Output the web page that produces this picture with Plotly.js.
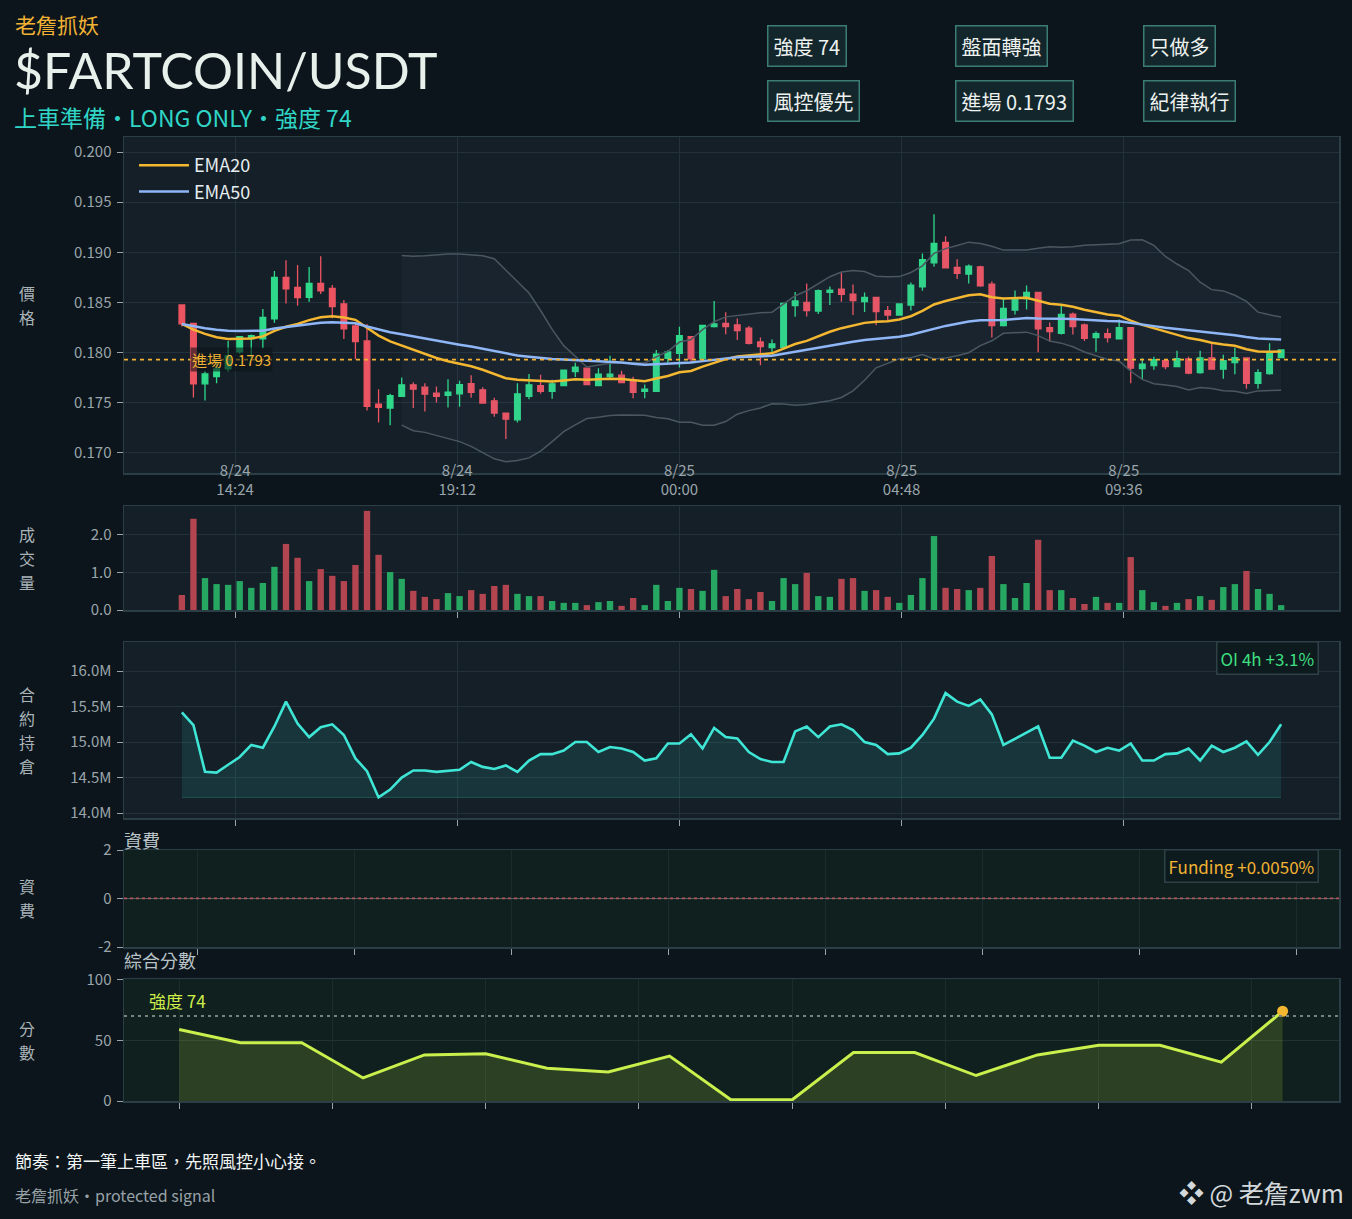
<!DOCTYPE html>
<html>
<head>
<meta charset="utf-8">
<script src="https://cdn.plot.ly/plotly-3.0.1.min.js"></script>
<style>
html,body{margin:0;padding:0;background:#0b151b;}
#chart{width:1352px;height:1219px;}
</style>
</head>
<body>
<div id="chart"></div>
<script>
// ---------------- DATA ----------------
const START_TIME = '2025-08-24T13:15:00';
const INTERVAL_MIN = 15;

const opens = [
0.18475,0.18292,0.17689,0.17762,0.17838,0.18007,0.18140,0.18137,0.18336,0.18750,
0.18650,0.18551,0.18690,0.18641,0.18485,0.18266,0.18117,0.17487,0.17447,0.17563,
0.17679,0.17656,0.17596,0.17573,0.17589,0.17692,0.17629,0.17520,0.17397,0.17330,
0.17563,0.17672,0.17613,0.17672,0.17812,0.17845,0.17672,0.17760,0.17775,0.17712,
0.17613,0.17613,0.17944,0.17994,0.18160,0.17938,0.18260,0.18292,0.18276,0.18243,
0.18107,0.18050,0.18054,0.18468,0.18500,0.18415,0.18600,0.18634,0.18584,0.18510,
0.18550,0.18418,0.18375,0.18475,0.18657,0.18896,0.19098,0.18850,0.18783,0.18856,
0.18684,0.18269,0.18425,0.18540,0.18600,0.18250,0.18193,0.18385,0.18276,0.18150,
0.18190,0.18137,0.18250,0.17840,0.17870,0.17920,0.17860,0.17937,0.17800,0.17947,
0.17835,0.17900,0.17947,0.17695,0.17790,0.17950];
const highs = [
0.18480,0.18295,0.17812,0.17920,0.18117,0.18167,0.18180,0.18435,0.18813,0.18922,
0.18873,0.18853,0.18962,0.18674,0.18525,0.18300,0.18286,0.17636,0.17590,0.17752,
0.17705,0.17696,0.17662,0.17735,0.17720,0.17775,0.17656,0.17550,0.17400,0.17696,
0.17788,0.17779,0.17730,0.17830,0.17900,0.17850,0.17845,0.17968,0.17820,0.17760,
0.17682,0.18027,0.18027,0.18259,0.18160,0.18275,0.18515,0.18402,0.18340,0.18266,
0.18150,0.18130,0.18500,0.18604,0.18690,0.18630,0.18660,0.18797,0.18680,0.18600,
0.18550,0.18465,0.18490,0.18700,0.18988,0.19380,0.19161,0.18932,0.18880,0.18866,
0.18710,0.18535,0.18620,0.18670,0.18600,0.18300,0.18468,0.18400,0.18290,0.18210,
0.18240,0.18330,0.18256,0.17945,0.17960,0.17920,0.18020,0.17960,0.18020,0.18090,
0.17980,0.18050,0.17950,0.17835,0.18093,0.18035];
const lows = [
0.18260,0.17553,0.17523,0.17696,0.17812,0.17990,0.17920,0.18044,0.18299,0.18491,
0.18468,0.18508,0.18584,0.18342,0.18137,0.17934,0.17424,0.17304,0.17275,0.17560,
0.17447,0.17414,0.17503,0.17453,0.17460,0.17550,0.17490,0.17360,0.17139,0.17304,
0.17536,0.17590,0.17540,0.17670,0.17758,0.17680,0.17670,0.17730,0.17700,0.17546,
0.17546,0.17610,0.17900,0.17851,0.17910,0.17935,0.18250,0.18183,0.18127,0.18080,
0.17875,0.18000,0.18050,0.18359,0.18360,0.18385,0.18475,0.18508,0.18375,0.18405,
0.18272,0.18310,0.18370,0.18420,0.18617,0.18856,0.18840,0.18733,0.18690,0.18657,
0.18150,0.18260,0.18380,0.18430,0.18004,0.18110,0.18180,0.18180,0.18117,0.18010,
0.18100,0.18130,0.17695,0.17730,0.17830,0.17835,0.17860,0.17785,0.17790,0.17830,
0.17739,0.17785,0.17639,0.17640,0.17780,0.17945];
const closes = [
0.18286,0.17689,0.17788,0.17838,0.17971,0.18160,0.18170,0.18352,0.18750,0.18637,
0.18548,0.18690,0.18617,0.18458,0.18236,0.18110,0.17464,0.17454,0.17570,0.17679,
0.17636,0.17586,0.17563,0.17606,0.17682,0.17603,0.17497,0.17397,0.17337,0.17589,
0.17679,0.17613,0.17689,0.17825,0.17855,0.17682,0.17785,0.17785,0.17702,0.17603,
0.17636,0.17984,0.18007,0.18170,0.17938,0.18272,0.18286,0.18260,0.18220,0.18093,
0.18060,0.18087,0.18491,0.18515,0.18418,0.18617,0.18624,0.18580,0.18518,0.18550,
0.18408,0.18375,0.18485,0.18674,0.18928,0.19088,0.18846,0.18790,0.18863,0.18667,
0.18269,0.18442,0.18548,0.18600,0.18236,0.18210,0.18382,0.18260,0.18143,0.18190,
0.18150,0.18250,0.17845,0.17885,0.17930,0.17860,0.17940,0.17795,0.17947,0.17835,
0.17920,0.17950,0.17695,0.17800,0.17994,0.18027];
// volume (millions)
const volumes = [
0.40,2.43,0.85,0.69,0.67,0.77,0.59,0.72,1.15,1.76,
1.39,0.77,1.09,0.91,0.77,1.20,2.64,1.47,1.01,0.83,
0.51,0.35,0.29,0.45,0.37,0.53,0.43,0.64,0.67,0.43,
0.37,0.37,0.24,0.19,0.19,0.13,0.21,0.24,0.11,0.32,
0.13,0.67,0.24,0.59,0.56,0.51,1.07,0.37,0.56,0.29,
0.48,0.24,0.85,0.69,0.99,0.37,0.35,0.83,0.85,0.51,
0.53,0.35,0.19,0.40,0.85,1.97,0.59,0.56,0.53,0.59,
1.44,0.69,0.32,0.72,1.87,0.53,0.53,0.32,0.16,0.35,
0.19,0.19,1.41,0.53,0.21,0.11,0.19,0.29,0.37,0.27,
0.61,0.69,1.04,0.56,0.43,0.13];
// open interest (millions)
const openInterest = [
15.42,15.24,14.58,14.57,14.68,14.79,14.96,14.92,15.22,15.57,
15.26,15.07,15.21,15.25,15.10,14.77,14.59,14.22,14.33,14.50,
14.60,14.60,14.58,14.59,14.61,14.72,14.65,14.62,14.67,14.58,
14.74,14.83,14.83,14.88,15.00,15.00,14.86,14.93,14.91,14.86,
14.74,14.77,14.98,14.98,15.11,14.91,15.20,15.07,15.05,14.86,
14.76,14.72,14.72,15.15,15.22,15.07,15.22,15.25,15.17,15.00,
14.96,14.83,14.84,14.92,15.10,15.33,15.69,15.57,15.51,15.60,
15.39,14.96,15.05,15.14,15.22,14.78,14.78,15.02,14.95,14.86,
14.92,14.88,14.98,14.74,14.74,14.83,14.84,14.91,14.74,14.95,
14.86,14.92,15.01,14.82,15.00,15.25];
const fundingRatePct = 0.0050;
const scores = [59,48,48,19,38,39,27,24,37,1,1,40,40,21,38,46,46,32,74];
const ENTRY = 0.1793;
const STRENGTH = 74;
const OI_CHANGE = '+3.1%';
const SCORE_LINE = 70;

const priceTickVals = ['2025-08-24 14:24','2025-08-24 19:12','2025-08-25 00:00','2025-08-25 04:48','2025-08-25 09:36'];
const priceTickText = ['8/24<br>14:24','8/24<br>19:12','8/25<br>00:00','8/25<br>04:48','8/25<br>09:36'];
const priceYTicks = [0.170,0.175,0.180,0.185,0.190,0.195,0.200];
const volYTicks = [0,1,2];
const oiYTicks = [14.0,14.5,15.0,15.5,16.0];
const oiYText = ['14.0M','14.5M','15.0M','15.5M','16.0M'];
const fundYTicks = [-2,0,2];
const fundYText = ['-2','0','2'];
const scoreYTicks = [0,50,100];
const scoreXTicks = [0,2.5,5,7.5,10,12.5,15,17.5];

// ---------------- DERIVED ----------------
const t0 = new Date(START_TIME).getTime();
function fmt(ms){
  const d = new Date(ms);
  const p = n => String(n).padStart(2,'0');
  return d.getFullYear()+'-'+p(d.getMonth()+1)+'-'+p(d.getDate())+' '+p(d.getHours())+':'+p(d.getMinutes());
}
const times = closes.map((_,i)=>fmt(t0 + i*INTERVAL_MIN*60000));
function ema(arr,n){const a=2/(n+1);const out=[arr[0]];for(let i=1;i<arr.length;i++)out.push(out[i-1]+a*(arr[i]-out[i-1]));return out;}
function boll(arr,n,k){
  const up=[],lo=[];
  for(let i=n-1;i<arr.length;i++){
    const w=arr.slice(i-n+1,i+1);const m=w.reduce((s,v)=>s+v,0)/n;
    const sd=Math.sqrt(w.reduce((s,v)=>s+(v-m)*(v-m),0)/(n-1));
    up.push(m+k*sd);lo.push(m-k*sd);
  }
  return {up,lo};
}
const ema20 = ema(closes,20), ema50 = ema(closes,50);
const bb = boll(closes,20,2);
const bbX = times.slice(19);
const volColors = closes.map((c,i)=> c>=opens[i] ? '#27a862' : '#b2454f');
const oiBase = Math.min(...openInterest);
const scoreX = scores.map((_,i)=>i);

// ---------------- STYLE ----------------
const F = '"Noto Sans CJK TC","Noto Sans",sans-serif';
const FT = 'Lato,"Noto Sans CJK TC",sans-serif';
const W=1352,H=1219;
const px = x=>x/W, py = y=>1-y/H;
const GRID='#22313a', LINE='#2c3e45', TICK='#9aa5ab';
const XD=[px(124),px(1339)];

const traces = [
  {type:'scatter',mode:'lines',x:bbX,y:bb.lo,line:{color:'#4a5761',width:1.5},xaxis:'x',yaxis:'y',showlegend:false,hoverinfo:'skip'},
  {type:'scatter',mode:'lines',x:bbX,y:bb.up,line:{color:'#4a5761',width:1.5},fill:'tonexty',fillcolor:'rgba(110,140,170,0.05)',xaxis:'x',yaxis:'y',showlegend:false,hoverinfo:'skip'},
  {type:'candlestick',x:times,open:opens,high:highs,low:lows,close:closes,xaxis:'x',yaxis:'y',
   increasing:{line:{color:'#2fd98a',width:1.3},fillcolor:'#2fd98a'},
   decreasing:{line:{color:'#ec5462',width:1.3},fillcolor:'#ec5462'},
   whiskerwidth:0,showlegend:false,hoverinfo:'skip'},
  {type:'scatter',mode:'lines',x:times,y:ema20,name:'EMA20',legendgroup:'e20',legendrank:1,line:{color:'#f4b731',width:2.5},xaxis:'x',yaxis:'y'},
  {type:'scatter',mode:'lines',x:times,y:ema50,name:'EMA50',legendgroup:'e50',legendrank:2,line:{color:'#8fb6f7',width:2.5},xaxis:'x',yaxis:'y'},
  {type:'bar',x:times,y:volumes,marker:{color:volColors,line:{width:0}},xaxis:'x2',yaxis:'y2',showlegend:false,hoverinfo:'skip'},
  {type:'scatter',mode:'lines',x:times,y:openInterest.map(()=>oiBase),line:{color:'rgba(60,200,190,0.25)',width:1},xaxis:'x3',yaxis:'y3',showlegend:false,hoverinfo:'skip'},
  {type:'scatter',mode:'lines',x:times,y:openInterest,line:{color:'#3fe6d6',width:2.6},fill:'tonexty',fillcolor:'rgba(46,200,190,0.13)',xaxis:'x3',yaxis:'y3',showlegend:false,hoverinfo:'skip'},
  {type:'scatter',mode:'lines',x:scoreX,y:scores,line:{color:'#c9f04c',width:3},fill:'tozeroy',fillcolor:'rgba(190,235,70,0.16)',xaxis:'x5',yaxis:'y5',showlegend:false,hoverinfo:'skip'},
  {type:'scatter',mode:'markers',x:[scoreX[scoreX.length-1]],y:[scores[scores.length-1]],marker:{color:'#f4b731',size:11},xaxis:'x5',yaxis:'y5',showlegend:false,hoverinfo:'skip'}
];

const axBase = {showline:true,mirror:true,linecolor:LINE,linewidth:1.5,gridcolor:GRID,gridwidth:1,zeroline:false,
  tickfont:{family:F,size:15,color:TICK},tickcolor:TICK,fixedrange:true,ticklabelstandoff:2};
const xRange = ['2025-08-24 12:00','2025-08-25 14:15'];

const layout = {
  width:W,height:H,margin:{l:0,r:0,t:0,b:0,pad:0},
  paper_bgcolor:'#0b151b',plot_bgcolor:'#151f28',
  font:{family:F,color:TICK},
  bargap:0.45,
  showlegend:true,
  legend:{x:px(134),y:py(147),xanchor:'left',yanchor:'top',bgcolor:'rgba(0,0,0,0)',traceorder:'normal',itemwidth:50,
          font:{family:F,size:18,color:'#e6edf0'},tracegroupgap:5},
  xaxis:Object.assign({},axBase,{domain:XD,anchor:'y',type:'date',range:xRange,tickmode:'array',tickvals:priceTickVals,ticktext:priceTickText,
     ticks:'',tickfont:{family:F,size:15,color:TICK},ticklabelstandoff:-17,rangeslider:{visible:false}}),
  yaxis:Object.assign({},axBase,{domain:[py(473),py(137)],anchor:'x',range:[0.168,0.2015],tickmode:'array',tickvals:priceYTicks,tickformat:'.3f',ticks:'outside',ticklen:6}),
  xaxis2:Object.assign({},axBase,{domain:XD,anchor:'y2',type:'date',matches:'x',tickmode:'array',tickvals:priceTickVals,showticklabels:false,ticks:'outside',ticklen:6}),
  yaxis2:Object.assign({},axBase,{domain:[py(610),py(506)],anchor:'x2',range:[0,2.77],tickmode:'array',tickvals:volYTicks,tickformat:'.1f',ticks:'outside',ticklen:6}),
  xaxis3:Object.assign({},axBase,{domain:XD,anchor:'y3',type:'date',matches:'x',tickmode:'array',tickvals:priceTickVals,showticklabels:false,ticks:'outside',ticklen:6}),
  yaxis3:Object.assign({},axBase,{domain:[py(818),py(642)],anchor:'x3',range:[13.93,16.41],tickmode:'array',tickvals:oiYTicks,ticktext:oiYText,ticks:'outside',ticklen:6}),
  xaxis4:Object.assign({},axBase,{domain:XD,anchor:'y4',range:[-0.471,7.27],tickmode:'linear',tick0:0,dtick:1,showticklabels:false,ticks:'outside',ticklen:6,gridcolor:'#1b2c2c'}),
  yaxis4:Object.assign({},axBase,{domain:[py(947),py(850)],anchor:'x4',range:[-2,2],tickmode:'array',tickvals:fundYTicks,ticktext:fundYText,ticks:'outside',ticklen:6,showgrid:false,
     zeroline:true,zerolinecolor:'#56646a',zerolinewidth:1.5}),
  xaxis5:Object.assign({},axBase,{domain:XD,anchor:'y5',range:[-0.9,18.92],tickmode:'array',tickvals:scoreXTicks,showticklabels:false,ticks:'outside',ticklen:6,gridcolor:'#1b2c2c'}),
  yaxis5:Object.assign({},axBase,{domain:[py(1101),py(979)],anchor:'x5',range:[0,100.6],tickmode:'array',tickvals:scoreYTicks,ticks:'outside',ticklen:6,gridcolor:'#21332f'}),
  shapes:[
    {type:'rect',xref:'x4 domain',yref:'y4 domain',x0:0,x1:1,y0:0,y1:1,fillcolor:'#10201e',line:{width:0},layer:'below'},
    {type:'rect',xref:'x5 domain',yref:'y5 domain',x0:0,x1:1,y0:0,y1:1,fillcolor:'#10201e',line:{width:0},layer:'below'},
    {type:'line',xref:'x domain',yref:'y',x0:0,x1:1,y0:ENTRY,y1:ENTRY,line:{color:'#f2b233',width:1.6,dash:'4px,4px'}},
    {type:'line',xref:'x4 domain',yref:'y4',x0:0,x1:1,y0:fundingRatePct,y1:fundingRatePct,line:{color:'#b3545f',width:1.6,dash:'3px,3px'}},
    {type:'line',xref:'x5 domain',yref:'y5',x0:0,x1:1,y0:SCORE_LINE,y1:SCORE_LINE,line:{color:'#76857c',width:2,dash:'3px,4px'}}
  ],
  annotations:[]
};

const A = layout.annotations;
function txt(text,x,y,size,color,opts){A.push(Object.assign({text:text,xref:'paper',yref:'paper',x:px(x),y:py(y),xanchor:'left',yanchor:'middle',showarrow:false,font:{family:F,size:size,color:color}},opts||{}));}
// header
txt('老詹抓妖',13,24,21,'#f2b233');
A.push({text:'$FARTCOIN/USDT',xref:'paper',yref:'paper',x:px(12),y:py(70),xanchor:'left',yanchor:'middle',showarrow:false,font:{family:FT,size:50,color:'#e8f0ec'}});
txt('上車準備·LONG ONLY·強度 '+STRENGTH,12,117,23,'#30d5c6');
// badges
const badges = [['強度 '+STRENGTH,767,46],['盤面轉強',955,46],['只做多',1143,46],['風控優先',767,101],['進場 '+ENTRY.toFixed(4),955,101],['紀律執行',1143,101]];
badges.forEach(b=>txt(b[0],b[1],b[2],20,'#eef2f0',{bgcolor:'#13262b',bordercolor:'#3b7d74',borderwidth:1.5,borderpad:5}));
// vertical axis titles (one character per line)
function vtitle(label,cy){const n=label.length;for(let k=0;k<n;k++){txt(label[k],27,cy+(k-(n-1)/2)*24,16,'#a9b3b8',{xanchor:'center'});}}
vtitle('價格',305);vtitle('成交量',558);vtitle('合約持倉',730);vtitle('資費',898);vtitle('分數',1040);
// panel titles
txt('資費',122,840,18,'#b9c2c6');
txt('綜合分數',122,960,18,'#b9c2c6');
// entry label
A.push({text:'進場 '+ENTRY.toFixed(4),xref:'x domain',yref:'y',x:(190-124)/1215,y:ENTRY,xanchor:'left',yanchor:'middle',showarrow:false,
  font:{family:F,size:15,color:'#f2b233'},bgcolor:'rgba(12,20,24,0.6)',borderpad:1});
// OI badge
A.push({text:'OI 4h '+OI_CHANGE,xref:'x3 domain',yref:'paper',x:1,y:py(658),xanchor:'right',yanchor:'middle',xshift:-20,showarrow:false,
  font:{family:F,size:17,color:'#3ddf80'},bgcolor:'#0e1b1e',bordercolor:'#2e4147',borderwidth:1.5,borderpad:3});
// funding badge
A.push({text:'Funding +'+fundingRatePct.toFixed(4)+'%',xref:'x4 domain',yref:'paper',x:1,y:py(866),xanchor:'right',yanchor:'middle',xshift:-20,showarrow:false,
  font:{family:F,size:17,color:'#f2b233'},bgcolor:'#0e1b1e',bordercolor:'#2e4147',borderwidth:1.5,borderpad:3});
// score label
A.push({text:'強度 '+STRENGTH,xref:'x5 domain',yref:'paper',x:(147-124)/1215,y:py(1000),xanchor:'left',yanchor:'middle',showarrow:false,
  font:{family:F,size:17,color:'#cfee4a'}});
// footer
txt('節奏：第一筆上車區，先照風控小心接。',13,1160,17,'#f2f4f4');
txt('老詹抓妖·protected signal',13,1195,16,'#98a2a7');
A.push({text:'❖ @ 老詹zwm',xref:'paper',yref:'paper',x:px(1346),y:py(1192),xanchor:'right',yanchor:'middle',showarrow:false,font:{family:F,size:25,color:'#d3d8da'}});

Plotly.newPlot('chart',traces,layout,{displayModeBar:false,staticPlot:true});
</script>
</body>
</html>
